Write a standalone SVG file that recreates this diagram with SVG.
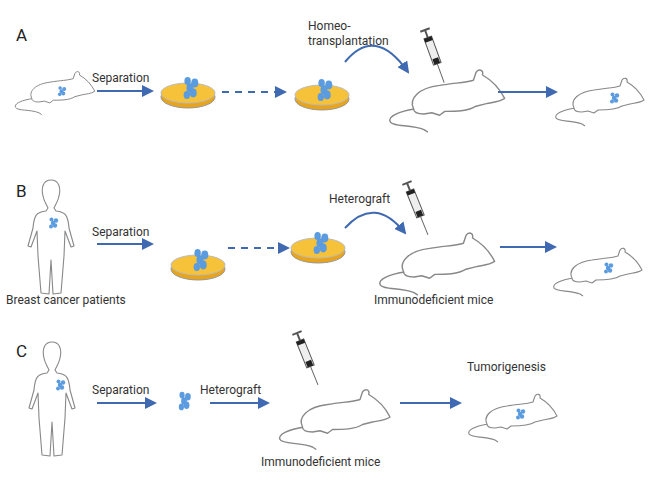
<svg xmlns="http://www.w3.org/2000/svg" width="650" height="488" viewBox="0 0 650 488">
<style>
.t{font-family:Roboto,"Liberation Sans",sans-serif;font-size:12px;fill:#333}
.L{font-family:Roboto,"Liberation Sans",sans-serif;font-size:17px;fill:#222}
.o{fill:#fff;stroke:#888;stroke-width:1.1;stroke-linejoin:round}
.ar{stroke:#3f69b0;stroke-width:2;fill:none}
.tm{fill:#5b9bdf}
</style>
<defs>
<marker id="ah" markerWidth="6" markerHeight="6" refX="5" refY="3" orient="auto" markerUnits="strokeWidth"><path d="M0,0 L6,3 L0,6 Z" fill="#3f69b0"/></marker>
<g id="mouse">
<path class="o" d="M24 36 C10 38 2 42 4 46 C6 50 20 48 30 52 L33 54" fill="none"/>
<path class="o" d="M22 36 C18 28 26 20 42 18 C54 16 62 16 68 14 L70 8 C72 5 76 6 75 10 C82 14 88 20 92 28 C88 31 82 31 78 32 L70 34 C64 38 54 38 46 38 L42 41 L36 39 L30 40 C24 40 22 38 22 36 Z"/>
</g>
<g id="tumor" class="tm"><circle cx="0" cy="0" r="2.2"/><circle cx="3" cy="-2.5" r="2.2"/><circle cx="2" cy="2.5" r="2.2"/><circle cx="-2" cy="3.5" r="2"/><circle cx="-1.5" cy="-3.5" r="2"/></g>
<g id="dish">
<ellipse cx="0" cy="4" rx="27" ry="11" fill="#e8a51c" stroke="#999"/>
<ellipse cx="0" cy="0" rx="27" ry="10" fill="#f6c23a" stroke="#bbb"/>
<g transform="translate(2,-5) scale(1.6,2)"><use href="#tumor"/></g>
</g>
<g id="human">
<path class="o" d="M25 2 C17 2 15 10 17 18 C18 24 21 27 22 30 L20 33 C10 34 8 38 7 50 L2 68 L5 69 L11 53 L12 78 L15 115 L23 116 L25 82 L27 116 L35 115 L38 78 L39 53 L45 69 L48 68 L43 50 C42 38 40 34 30 33 L28 30 C29 27 32 24 33 18 C35 10 33 2 25 2 Z"/>
</g>
<g id="syr">
<line x1="0" y1="0" x2="0" y2="8" stroke="#555" stroke-width="2"/>
<line x1="-5" y1="0" x2="5" y2="0" stroke="#555" stroke-width="2"/>
<rect x="-4" y="8" width="8" height="28" fill="#eee" stroke="#555"/>
<rect x="-4" y="8" width="8" height="4" fill="#222"/>
<rect x="-3" y="30" width="6" height="6" fill="#222"/>
<line x1="0" y1="36" x2="0" y2="56" stroke="#666"/>
</g>
</defs>
<g id="labels">
<text class="L" x="16" y="41">A</text>
<text class="L" x="16" y="197">B</text>
<text class="L" x="16" y="357">C</text>
<text class="t" x="92" y="82">Separation</text>
<text class="t" x="308" y="30">Homeo-</text>
<text class="t" x="308" y="45">transplantation</text>
<text class="t" x="92" y="236">Separation</text>
<text class="t" x="329" y="203">Heterograft</text>
<text class="t" x="6" y="304">Breast cancer patients</text>
<text class="t" x="374" y="304">Immunodeficient mice</text>
<text class="t" x="92" y="394">Separation</text>
<text class="t" x="200" y="394">Heterograft</text>
<text class="t" x="467" y="371">Tumorigenesis</text>
<text class="t" x="261" y="466">Immunodeficient mice</text>
</g>
<g id="nodes">
<g id="mouseA1" transform="translate(12,66) scale(0.9)"><use href="#mouse"/><use href="#tumor" x="55" y="28"/></g>
<g id="dishA1" transform="translate(188,93)"><use href="#dish"/></g>
<g id="dishA2" transform="translate(322,95)"><use href="#dish"/></g>
<g id="mouseA2" transform="translate(385,62) scale(1.3)"><use href="#mouse"/></g>
<g id="syrA" transform="translate(425,30) rotate(-20)"><use href="#syr"/></g>
<g id="mouseA3" transform="translate(552,72)"><use href="#mouse"/><use href="#tumor" x="62" y="26"/></g>
<g id="humanB" transform="translate(26,178)"><use href="#human"/><use href="#tumor" x="27" y="45"/></g>
<g id="dishB1" transform="translate(198,265)"><use href="#dish"/></g>
<g id="dishB2" transform="translate(318,248)"><use href="#dish"/></g>
<g id="mouseB2" transform="translate(375,225) scale(1.3)"><use href="#mouse"/></g>
<g id="syrB" transform="translate(407,183) rotate(-22)"><use href="#syr"/></g>
<g id="mouseB3" transform="translate(550,242)"><use href="#mouse"/><use href="#tumor" x="58" y="26"/></g>
<g id="humanC" transform="translate(27,340)"><use href="#human"/><use href="#tumor" x="33" y="45"/></g>
<g id="tumorC" transform="translate(184,401) scale(1.3,1.7)"><use href="#tumor"/></g>
<g id="mouseC2" transform="translate(275,382) scale(1.25)"><use href="#mouse"/></g>
<g id="syrC" transform="translate(297,333) rotate(-22)"><use href="#syr"/></g>
<g id="mouseC3" transform="translate(465,388)"><use href="#mouse"/><use href="#tumor" x="55" y="26"/></g>
</g>
<g id="connectors">
<line class="ar" x1="97" y1="91" x2="152" y2="91" marker-end="url(#ah)"/>
<line class="ar" x1="222" y1="92" x2="285" y2="92" stroke-width="3" stroke-dasharray="7 6" marker-end="url(#ah)"/>
<path class="ar" d="M345 62 Q375 25 408 72" stroke-width="4" marker-end="url(#ah)"/>
<line class="ar" x1="498" y1="92" x2="556" y2="92" marker-end="url(#ah)"/>
<line class="ar" x1="97" y1="244" x2="152" y2="244" marker-end="url(#ah)"/>
<line class="ar" x1="228" y1="248" x2="288" y2="248" stroke-width="3" stroke-dasharray="7 6" marker-end="url(#ah)"/>
<path class="ar" d="M345 228 Q375 195 405 233" stroke-width="4" marker-end="url(#ah)"/>
<line class="ar" x1="500" y1="247" x2="555" y2="247" marker-end="url(#ah)"/>
<line class="ar" x1="97" y1="403" x2="155" y2="403" marker-end="url(#ah)"/>
<line class="ar" x1="210" y1="403" x2="268" y2="403" marker-end="url(#ah)"/>
<line class="ar" x1="400" y1="403" x2="460" y2="403" marker-end="url(#ah)"/>
</g>
</svg>
